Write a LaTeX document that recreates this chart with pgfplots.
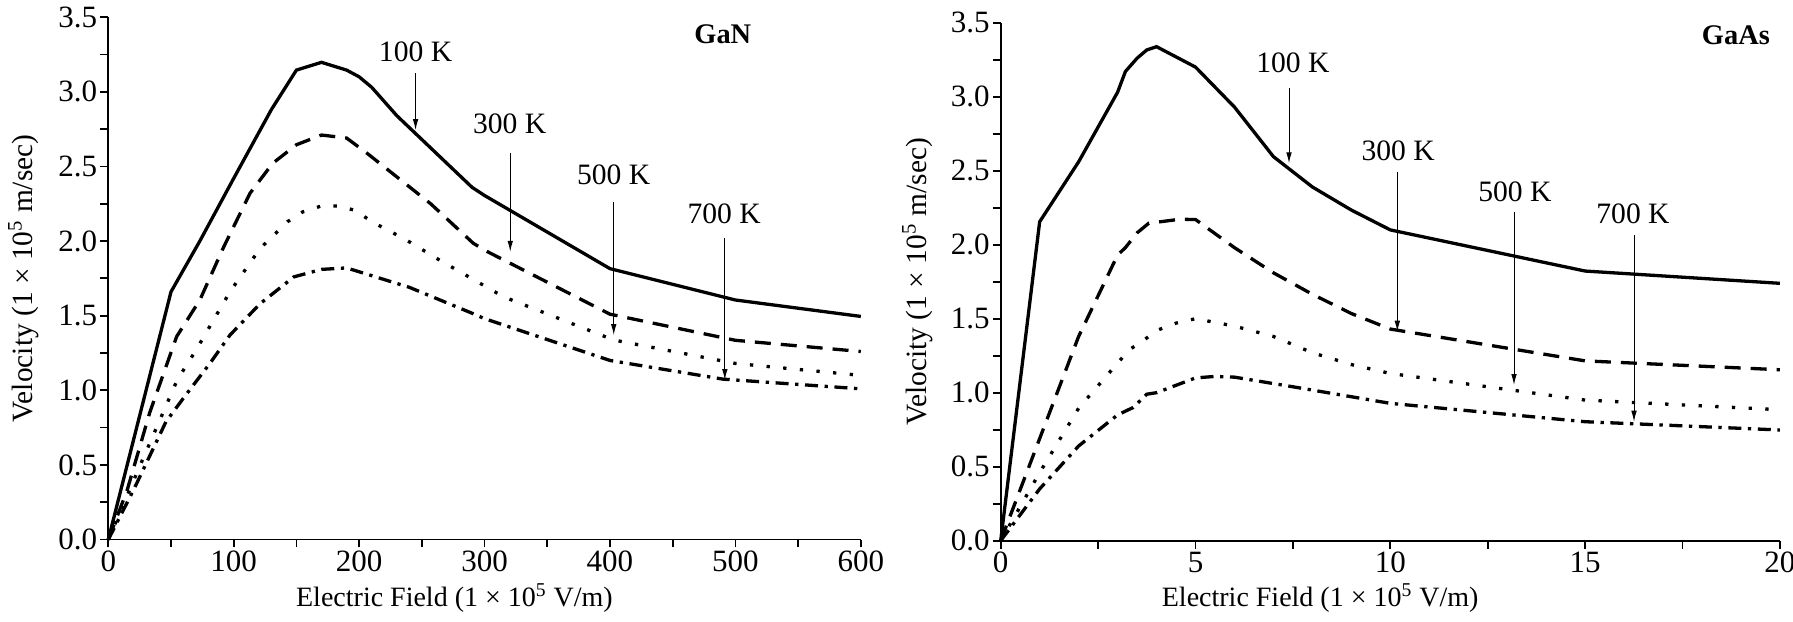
\documentclass[border=0pt]{standalone}
\usepackage{fontspec}
\setmainfont{Liberation Serif}
\usepackage{pgfplots}
\pgfplotsset{compat=1.18}
\usetikzlibrary{arrows.meta}

\tikzset{
  note/.style={font=\fontsize{14.8bp}{17bp}\selectfont, inner sep=0pt},
  pointer/.style={black, line width=0.5bp, -{Latex[length=5.5bp, width=2.8bp]}},
  T100/.style={black, line width=1.65bp, solid},
  T300/.style={black, line width=1.65bp, dash pattern=on 8bp off 5bp},
  T500/.style={black, line width=1.65bp, dash pattern=on 1.65bp off 6.7bp},
  T700/.style={black, line width=1.65bp, dash pattern=on 6.5bp off 3.3bp on 1.65bp off 3.3bp},
}

\pgfplotsset{
  velaxis/.style={
    scale only axis,
    clip=false,
    axis x line=bottom,
    axis y line=left,
    axis line style={-, line width=0.85bp, black},
    tick align=outside,
    major tick length=3.9bp,
    minor tick length=3.9bp,
    every tick/.style={line width=0.85bp, black},
    ymin=0, ymax=3.5,
    ytick={0,0.5,...,3.5},
    minor ytick={0.25,0.75,...,3.25},
    y tick label style={/pgf/number format/.cd, fixed, fixed zerofill, precision=1, /tikz/.cd},
    /pgf/number format/assume math mode=true,
    tick label style={font=\fontsize{15.5bp}{17bp}\selectfont, inner sep=1.5bp},
    ylabel style={font=\fontsize{14.7bp}{17bp}\selectfont},
    xlabel style={font=\fontsize{14.0bp}{17bp}\selectfont},
    ylabel={Velocity (1 × 10\textsuperscript{5} m/sec)},
    xlabel={Electric Field (1 × 10\textsuperscript{5} V/m)},
  },
}

\begin{document}
\begin{tikzpicture}

% ---------------- GaN ----------------
\begin{axis}[velaxis,
  at={(54.15bp,41.2bp)}, anchor=south west,
  width=376.25bp, height=261.25bp,
  xmin=0, xmax=600,
  xtick={0,100,...,600},
  minor xtick={50,150,...,550},
  xlabel style={at={(axis description cs:0.46,-0.112)}, anchor=center},
  ylabel style={at={(axis description cs:-0.113,0.5)}, anchor=center},
]
\addplot[T100] coordinates {
  (0,0) (50,1.66) (73,2.00) (100,2.42) (130,2.88) (150,3.145) (170,3.197)
  (190,3.145) (200,3.10) (210,3.03) (230,2.84) (260,2.60) (290,2.36)
  (300,2.305) (400,1.815) (500,1.605) (600,1.495)};
\addplot[T300] coordinates {
  (0,0) (15,0.33) (33,0.85) (54.5,1.36) (73,1.605) (92,1.96) (113,2.32)
  (131,2.52) (150,2.645) (170,2.71) (190,2.69) (206,2.59) (233,2.41)
  (257,2.25) (291,1.985) (302,1.93) (400,1.51) (500,1.335) (600,1.26)};
\addplot[T500] coordinates {
  (0,0) (25,0.49) (55,1.07) (70,1.27) (97,1.66) (121,1.95) (143,2.13)
  (155,2.195) (170,2.235) (183,2.235) (197,2.205) (210,2.13) (237,2.01)
  (264,1.873) (315,1.627) (403,1.337) (500,1.18) (600,1.10)};
\addplot[T700] coordinates {
  (0,0) (20,0.33) (46,0.79) (61,0.96) (81,1.18) (97,1.37) (121,1.58)
  (148,1.76) (170,1.81) (190,1.82) (240,1.69) (289,1.52) (300,1.48)
  (400,1.20) (490,1.075) (600,1.01)};

\draw[pointer] (axis cs:245,3.123) -- (axis cs:245,2.743);
\node[note] at (axis cs:245,3.268) {100 K};
\draw[pointer] (axis cs:320.5,2.59) -- (axis cs:320.5,1.928);
\node[note] at (axis cs:320,2.785) {300 K};
\draw[pointer] (axis cs:403,2.263) -- (axis cs:403,1.37);
\node[note] at (axis cs:403,2.442) {500 K};
\draw[pointer] (axis cs:491.6,2.018) -- (axis cs:491.6,1.069);
\node[note] at (axis cs:491,2.185) {700 K};

\node[font=\fontsize{14.2bp}{17bp}\selectfont\bfseries, inner sep=0pt] at (axis cs:490,3.386) {GaN};
\end{axis}

% ---------------- GaAs ----------------
\begin{axis}[velaxis,
  at={(500.35bp,40.65bp)}, anchor=south west,
  width=389.6bp, height=259bp,
  xmin=0, xmax=20,
  xtick={0,5,...,20},
  minor xtick={2.5,7.5,...,17.5},
  xlabel style={at={(axis description cs:0.41,-0.111)}, anchor=center},
  ylabel style={at={(axis description cs:-0.107,0.5)}, anchor=center},
]
\addplot[T100] coordinates {
  (0,0) (1,2.155) (2,2.56) (3,3.03) (3.2,3.17) (3.5,3.26) (3.75,3.316)
  (4,3.338) (5,3.20) (6,2.93) (7,2.595) (8,2.39) (9,2.234) (10,2.10)
  (15,1.822) (20,1.739)};
\addplot[T300] coordinates {
  (0,0) (1,0.69) (2,1.38) (3,1.93) (3.2,1.98) (3.5,2.08) (3.8,2.145)
  (4.6,2.172) (5,2.17) (6,1.98) (7,1.81) (8,1.665) (9,1.535) (10,1.43)
  (15,1.215) (20,1.155)};
\addplot[T500] coordinates {
  (0,0) (1,0.46) (2,0.895) (3,1.2) (3.3,1.29) (3.7,1.36) (4,1.42)
  (4.5,1.47) (5,1.50) (6,1.45) (7,1.38) (8,1.27) (9,1.19) (10,1.13)
  (15,0.95) (20,0.885)};
\addplot[T700] coordinates {
  (0,0) (1,0.35) (2,0.64) (3,0.85) (3.4,0.90) (3.75,0.99) (4,1.00)
  (4.5,1.05) (5,1.10) (5.5,1.11) (6,1.105) (7.5,1.04) (10,0.928)
  (15,0.804) (20,0.748)};

\draw[pointer] (axis cs:7.40,3.057) -- (axis cs:7.40,2.55);
\node[note] at (axis cs:7.5,3.226) {100 K};
\draw[pointer] (axis cs:10.18,2.493) -- (axis cs:10.18,1.412);
\node[note] at (axis cs:10.2,2.634) {300 K};
\draw[pointer] (axis cs:13.175,2.223) -- (axis cs:13.175,1.052);
\node[note] at (axis cs:13.2,2.358) {500 K};
\draw[pointer] (axis cs:16.255,2.066) -- (axis cs:16.255,0.804);
\node[note] at (axis cs:16.23,2.212) {700 K};

\node[font=\fontsize{14.2bp}{17bp}\selectfont\bfseries, inner sep=0pt] at (axis cs:18.87,3.417) {GaAs};
\end{axis}

\pgfresetboundingbox
\useasboundingbox (0,0) rectangle (896.5bp,311bp);
\end{tikzpicture}
\end{document}
